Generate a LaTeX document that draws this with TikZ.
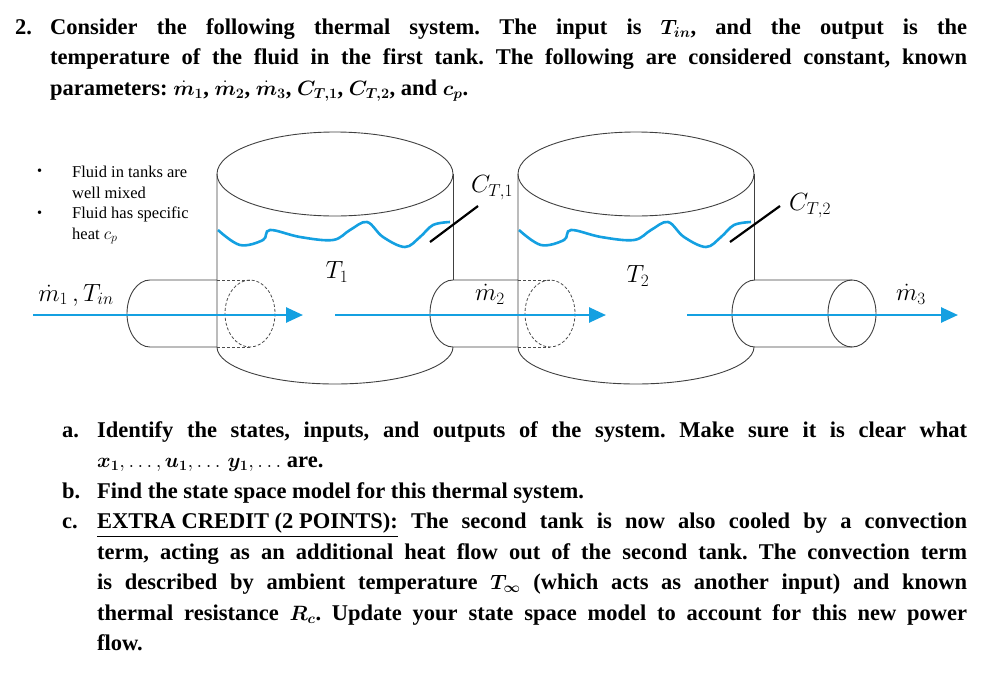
\documentclass[tikz,border=0pt]{standalone}
\usepackage{amsmath,bm}
\usepackage{fontspec}
\setmainfont{Liberation Serif}
\usetikzlibrary{arrows.meta}
\definecolor{flow}{RGB}{20,160,225}
\frenchspacing
\begin{document}
\begin{tikzpicture}[x=1pt,y=-1pt,
  ln/.style={draw=black!75,line width=0.9pt},
  dsh/.style={draw=black!70,line width=0.8pt,dash pattern=on 3pt off 2pt},
  arr/.style={flow,line width=2.6pt,-{Triangle[length=17pt,width=15pt]}},
  wave/.style={flow,line width=2.6pt},
  ct/.style={line width=2.2pt},
  lab/.style={inner sep=0pt,font=\fontsize{24}{26}\selectfont},
  bul/.style={inner sep=0pt,anchor=west,font=\fontsize{16.5}{20}\selectfont},
  para/.style={inner sep=0pt,anchor=north west,align=justify,font=\bfseries\fontsize{22.5}{30.5}\selectfont}]
\useasboundingbox (0,0) rectangle (990,672);
% tanks
\foreach \c in {335,636}{
  \draw[ln] (\c,174) ellipse [x radius=118,y radius=42];
  \draw[ln] (\c-118,174) -- (\c-118,347) arc[start angle=180,end angle=0,x radius=118,y radius=37];
  \draw[ln] (\c+118,174) -- (\c+118,280);
}
% pipe 1
\draw[ln] (217,280) -- (150,280) arc[start angle=270,end angle=90,x radius=23,y radius=33.5] -- (217,347);
\draw[dsh] (217,280) -- (250,280) (217,347) -- (250,347);
\draw[dsh] (250,313.5) ellipse [x radius=25,y radius=33.5];
% pipe 2
\draw[ln] (518,280) -- (453,280) arc[start angle=270,end angle=90,x radius=23,y radius=33.5] -- (518,347);
\draw[dsh] (518,280) -- (550,280) (518,347) -- (550,347);
\draw[dsh] (550,313.5) ellipse [x radius=25,y radius=33.5];
% pipe 3
\draw[ln] (852,280) -- (755,280) arc[start angle=270,end angle=90,x radius=23,y radius=33.5] -- (852,347);
\draw[ln] (852,313.5) ellipse [x radius=24,y radius=33.5];
% waves
\foreach \d in {0,301}{
  \begin{scope}[xshift=\d]
  \draw[wave] plot[smooth,tension=0.6] coordinates {(218,230) (240,245) (263,240) (270,230) (300,237) (333,240) (350,230) (367,222) (383,237) (405,247) (420,237) (433,225) (450,222)};
  \end{scope}
}
\draw[ct] (430,242) -- (478,206);
\draw[ct] (730,242) -- (780,206);
% arrows
\coordinate (a1s) at (33,315); \coordinate (a1e) at (303,315);
\coordinate (a2s) at (335,315); \coordinate (a2e) at (606,315);
\coordinate (a3s) at (687,315); \coordinate (a3e) at (958,315);
\draw[arr] (a1s) -- (a1e);
\draw[arr] (a2s) -- (a2e);
\draw[arr] (a3s) -- (a3e);
% labels
\node[lab] (ct1) at (492,188) {$C_{T,1}$};
\node[lab] (ct2) at (810,206) {$C_{T,2}$};
\node[lab] (t1) at (337,272) {$T_1$};
\node[lab] (t2) at (638,276) {$T_2$};
\node[lab] (m1) at (76,295) {$\dot m_1\,,T_{in}$};
\node[lab] (m2) at (490,294) {$\dot m_2$};
\node[lab] (m3) at (911,294) {$\dot m_3$};
% bullets
\node[bul] (b1d) at (37,172) {\Large\textbullet};
\node[bul] (b1) at (72,172) {Fluid in tanks are};
\node[bul] (b1b) at (72,193) {well mixed};
\node[bul] (b2d) at (37,214) {\Large\textbullet};
\node[bul] (b2) at (72,214) {Fluid has specific};
\node[bul] (b2b) at (72,236) {heat $c_p$};
% heading
\node[para,text width=952pt] (head) at (15,18) {\hangindent=35pt\hangafter=1\makebox[35pt][l]{2.}Consider the following thermal system. The input is $\bm{T_{in}}$, and the output is the\linebreak temperature of the fluid in the first tank. The following are considered constant, known\linebreak parameters: $\bm{\dot m_1}$, $\bm{\dot m_2}$, $\bm{\dot m_3}$, $\bm{C_{T,1}}$, $\bm{C_{T,2}}$, and $\bm{c_p}$.\par};
% questions
\node[para,text width=905pt] (qa) at (62,421) {\hangindent=35pt\hangafter=1\makebox[35pt][l]{a.}Identify the states, inputs, and outputs of the system. Make sure it is clear what\linebreak $\bm{x_1},\ldots,\bm{u_1},\ldots\,\bm{y_1},\ldots$ are.\par
\makebox[35pt][l]{b.}Find the state space model for this thermal system.\par
\hangindent=35pt\hangafter=1\makebox[35pt][l]{c.}\underline{EXTRA CREDIT (2 POINTS):} The second tank is now also cooled by a convection\linebreak term, acting as an additional heat flow out of the second tank. The convection term\linebreak is described by ambient temperature $\bm{T_\infty}$ (which acts as another input) and known\linebreak thermal resistance $\bm{R_c}$. Update your state space model to account for this new power\linebreak flow.\par};
\end{tikzpicture}
\end{document}
